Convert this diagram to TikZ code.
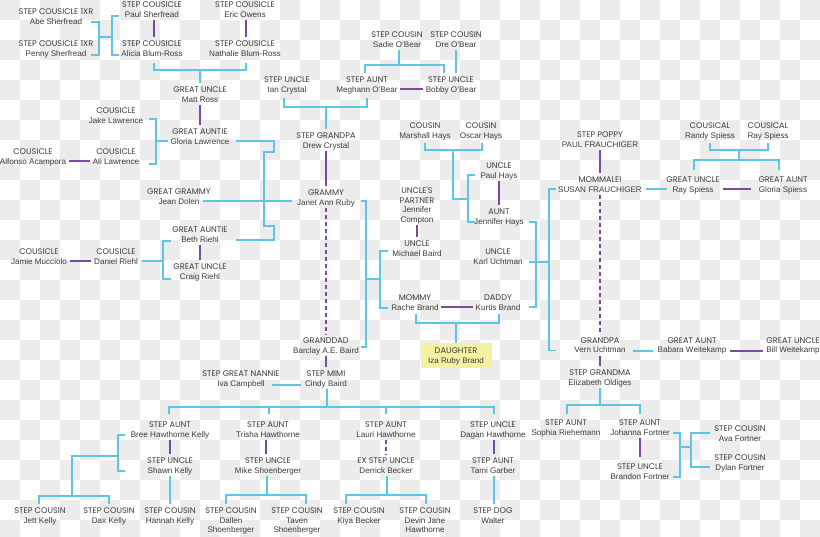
\documentclass[tikz,border=0pt]{standalone}
\usepackage{fontspec}
\setmainfont{Liberation Sans}
\newfontfamily\rolefont{Poppins}
\definecolor{kinblue}{HTML}{5CC6E4}
\definecolor{wedpurple}{HTML}{7B4A9E}
\definecolor{sqgrey}{HTML}{ECECEC}
\definecolor{textgrey}{HTML}{3C3C3C}
\definecolor{izayellow}{HTML}{F5F1A2}
\tikzset{
	role/.style={text=textgrey,font=\rolefont\fontsize{8.2}{9}\selectfont,inner xsep=2.5pt,inner ysep=2.75pt,text height=6.5pt,text depth=0pt},
	who/.style={text=textgrey,font=\fontsize{8.1}{9}\selectfont,inner xsep=2.5pt,inner ysep=2.75pt,text height=6.5pt,text depth=0pt},
	kin/.style={draw=kinblue,line width=1.8pt},
	wed/.style={draw=wedpurple,line width=2pt},
	wedex/.style={wed,dashed,dash pattern=on 4pt off 3pt},
	izabox/.style={fill=izayellow,minimum width=71pt,minimum height=25pt,inner sep=0pt}
}
\begin{document}
\begin{tikzpicture}[x=1pt,y=-1pt,line join=miter,line cap=butt]
	\useasboundingbox (0,0) rectangle (820,536);
	\fill[white] (0,0) rectangle (820,536);
	% checker background
	\foreach \i in {0,...,40}
	\foreach \j in {0,...,26}{
		\pgfmathparse{int(mod(\i+\j,2))}
		\ifnum\pgfmathresult=0 \fill[sqgrey] (\i*20,\j*20) rectangle ++(20,20); \fi
	}
	\node[izabox] (izab) at (456,355.5) {};
	% people: name/x/y/role/full name
	\foreach \n/\x/\y/\rl/\nm in {
		abe/56/21/STEP COUSICLE 1XR/Abe Sherfread,
		penny/56/53/STEP COUSICLE 1XR/Penny Sherfread,
		paul/152/14/STEP COUSICLE/Paul Sherfread,
		alicia/152/53/STEP COUSICLE/Alicia Blum-Ross,
		eric/245/14/STEP COUSICLE/Eric Owens,
		nathalie/245/53/STEP COUSICLE/Nathalie Blum-Ross,
		matt/200/99/GREAT UNCLE/Matt Ross,
		gloria/200/141/GREAT AUNTIE/Gloria Lawrence,
		jake/116/120/COUSICLE/Jake Lawrence,
		ali/116/161/COUSICLE/Ali Lawrence,
		alfonso/33/161/COUSICLE/Alfonso Acampora,
		ian/287/89/STEP UNCLE/Ian Crystal,
		meghann/367/89/STEP AUNT/Meghann O'Bear,
		bobby/451/89/STEP UNCLE/Bobby O'Bear,
		sadie/397/44/STEP COUSIN/Sadie O'Bear,
		dre/456/44/STEP COUSIN/Dre O'Bear,
		drew/326/145/STEP GRANDPA/Drew Crystal,
		marshall/425/135/COUSIN/Marshall Hays,
		oscar/481/135/COUSIN/Oscar Hays,
		paulh/499/175/UNCLE/Paul Hays,
		jean/179/201/GREAT GRAMMY/Jean Dolen,
		janet/326/202/GRAMMY/Janet Ann Ruby,
		michael/417/253/UNCLE/Michael Baird,
		beth/200/239/GREAT AUNTIE/Beth Riehl,
		craig/200/276/GREAT UNCLE/Craig Riehl,
		daniel/116/261/COUSICLE/Daniel Riehl,
		jamie/39/261/COUSICLE/Jamie Mucciolo,
		jenn/499/221/AUNT/Jennifer Hays,
		karl/498/261/UNCLE/Karl Uchtman,
		rache/415/307/MOMMY/Rache Brand,
		kurtis/498/307/DADDY/Kurtis Brand,
		iza/456/360/DAUGHTER/Iza Ruby Brand,
		barclay/326/350/GRANDDAD/Barclay A.E. Baird,
		mimi/326/383/STEP MIMI/Cindy Baird,
		iva/241/383/STEP GREAT NANNIE/Iva Campbell,
		poppy/600/144/STEP POPPY/PAUL FRAUCHIGER,
		susan/600/189/MOMMALEI/SUSAN FRAUCHIGER,
		randy/710/135/COUSICAL/Randy Spiess,
		rays/768/135/COUSICAL/Ray Spiess,
		rayg/693/189/GREAT UNCLE/Ray Spiess,
		glorias/783/189/GREAT AUNT/Gloria Spiess,
		vern/600/349.5/GRANDPA/Vern Uchtman,
		babara/692/349.5/GREAT AUNT/Babara Weitekamp,
		bill/793/349.5/GREAT UNCLE/Bill Weitekamp,
		eliz/600/382/STEP GRANDMA/Elizabeth Oldiges,
		sophia/566/432/STEP AUNT/Sophia Riehemann,
		johanna/640/432/STEP AUNT/Johanna Fortner,
		brandon/640/476/STEP UNCLE/Brandon Fortner,
		ava/740/438/STEP COUSIN/Ava Fortner,
		dylan/740/467/STEP COUSIN/Dylan Fortner,
		bree/170/434/STEP AUNT/Bree Hawthorne Kelly,
		shawn/170/470/STEP UNCLE/Shawn Kelly,
		trisha/268/434/STEP AUNT/Trisha Hawthorne,
		mike/268/470/STEP UNCLE/Mike Shoenberger,
		lauri/386/434/STEP AUNT/Lauri Hawthorne,
		derrick/386/470/EX STEP UNCLE/Derrick Becker,
		dagan/493/434/STEP UNCLE/Dagan Hawthorne,
		tami/493/470/STEP AUNT/Tami Garber,
		jett/40/520/STEP COUSIN/Jett Kelly,
		dax/109/520/STEP COUSIN/Dax Kelly,
		hannah/170/520/STEP COUSIN/Hannah Kelly,
		dallen/231/520/STEP COUSIN/Dallen,
		taven/297/520/STEP COUSIN/Taven,
		kiya/359/520/STEP COUSIN/Kiya Becker,
		devin/425/520/STEP COUSIN/Devin Jane,
		walter/493/520/STEP DOG/Walter}{
		\node[role] (\n-t) at (\x,\y-9.5) {\rl};
		\node[who] (\n) at (\x,\y) {\nm};
	}
	\node[role] (uncles) at (417,190) {UNCLE'S};
	\node[role] (partner) at (417,200) {PARTNER};
	\node[who] (jennifer) at (417,209) {Jennifer};
	\node[who] (compton) at (417,219) {Compton};
	\node[who] (dallenb) at (231,529.5) {Shoenberger};
	\node[who] (tavenb) at (297,529.5) {Shoenberger};
	\node[who] (devinb) at (425,529.5) {Hawthorne};
	% junctions
	\foreach \n/\x/\y in {sherl/99/37,sherr/112/37,rossj/200/70,lawj/156/141,riehlj/163/261,
		obj/399/65,cryj/326/107,hayj/453/150,hayk/468/199,bairdj/366/279,bairdk/380/279,
		brandj/456/323,uchj/529/262,uchk/549/262,spj/739/150,spk/739/160,elij/600/405,
		fortj/680/447,fortk/691/447,hawj/327/407,kelj/118/456,kelk/72/496,shoj/267/495,becj/387/495}
	\coordinate (\n) at (\x,\y);
	% blue lines
	\draw[kin] ([shift={(35,1)}]abe.center) -- ++(8,0) |- ([shift={(35,2)}]penny.center);
	\draw[kin] ([shift={(-33,2)}]paul.center) -- ++(-7,0) |- ([shift={(-33,2)}]alicia.center);
	\draw[kin] (sherl) -- (sherr);
	\draw[kin] ([shift={(2,10)}]alicia.center) -- ++(0,7) -| ([shift={(1,10)}]nathalie.center);
	\draw[kin] (rossj) -- (matt-t.north);
	\draw[kin] ([shift={(33,-1)}]jake.center) -- ++(7,0) |- ([shift={(33,3)}]ali.center);
	\draw[kin] (lawj) -- ([xshift=-32]gloria.center);
	\draw[kin] ([xshift=36]gloria.center) -- ++(38,0) -- ++(0,11) -- ++(-10,0) -- ++(0,74) -- ++(10,0) -- ++(0,14) -- ([shift={(36,1)}]beth.center);
	\draw[kin] ([xshift=24]jean.center) -- ([shift={(-34,-1)}]janet.center);
	\draw[kin] ([xshift=26]daniel.center) -- (riehlj);
	\draw[kin] ([shift={(-29,2)}]beth.center) -- ++(-8,0) |- ([shift={(-29,3)}]craig.center);
	\draw[kin] ([xshift=2]sadie.south) -- (obj);
	\draw[kin] ([xshift=-2]meghann-t.north) |- (obj) -| ([xshift=-7]bobby-t.north);
	\draw[kin] (dre.south) -- ([xshift=5]bobby-t.north);
	\draw[kin] ([shift={(-3,9)}]ian.center) |- (cryj) -| ([shift={(0,9)}]meghann.center);
	\draw[kin] (cryj) -- (drew-t.north);
	\draw[kin] ([shift={(0,8)}]marshall.center) |- (hayj) -| ([shift={(1,8)}]oscar.center);
	\draw[kin] (hayj) |- (hayk);
	\draw[kin] ([xshift=-24]paulh.center) -- ++(-7,0) |- ([shift={(-24,1)}]jenn.center);
	\draw[kin] ([shift={(35,-1)}]janet.center) -- ++(5,0) |- ([shift={(35,-3)}]barclay.center);
	\draw[kin] (bairdj) -- (bairdk);
	\draw[kin] ([shift={(-29,-2)}]michael.center) -- ++(-8,0) |- ([shift={(-27,1)}]rache.center);
	\draw[kin] ([shift={(1,7)}]rache.center) |- (brandj) -| ([shift={(1,7)}]kurtis.center);
	\draw[kin] (brandj) -- (izab.north);
	\draw[kin] ([shift={(30,1)}]jenn.center) -- ++(7,0) |- ([xshift=31]kurtis.center);
	\draw[kin] ([shift={(31,1)}]karl.center) -- (uchk);
	\draw[kin] ([xshift=-44]susan.center) -- ++(-7,0) |- ([shift={(-44,1)}]vern.center);
	\draw[kin] ([xshift=46]susan.center) -- ([xshift=-26]rayg.center);
	\draw[kin] ([shift={(0,8)}]randy.center) |- (spj) -| ([shift={(0,8)}]rays.center);
	\draw[kin] (spj) -- (spk);
	\draw[kin] ([shift={(1,-3)}]rayg-t.north) |- (spk) -| ([shift={(-4,-3)}]glorias-t.north);
	\draw[kin] ([shift={(33,1.5)}]vern.center) -- ([shift={(-39,1.5)}]babara.center);
	\draw[kin] (eliz.south) -- (elij);
	\draw[kin] ([shift={(1,-2)}]sophia-t.north) |- (elij) -| ([shift={(0,-2)}]johanna-t.north);
	\draw[kin] ([shift={(33,1)}]johanna.center) -- ++(7,0) |- ([shift={(33,1)}]brandon.center);
	\draw[kin] (fortj) -- (fortk);
	\draw[kin] ([shift={(-30,-5)}]ava.center) -- ++(-19,0) |- ([xshift=-30]dylan.center);
	\draw[kin] ([shift={(31,2)}]iva.center) -- ([shift={(-25,2)}]mimi.center);
	\draw[kin] ([xshift=1]mimi.south) -- (hawj);
	\draw[kin] ([shift={(-1,-4.5)}]bree-t.north) -- ++(0,-7) -| ([shift={(1,-4.5)}]dagan-t.north);
	\draw[kin] ([shift={(1,-4.5)}]trisha-t.north) -- ++(0,-7);
	\draw[kin] ([yshift=4.5]lauri-t.north) -- ++(0,-7);
	\draw[kin] ([shift={(-45,1)}]bree.center) -- ++(-7,0) |- ([shift={(-45,1)}]shawn.center);
	\draw[kin] (kelj) -| (kelk);
	\draw[kin] ([xshift=-1]jett-t.north) |- (kelk) -| (dax-t.north);
	\draw[kin] (shawn.south) -- (hannah-t.north);
	\draw[kin] ([xshift=-1]mike.south) -- (shoj);
	\draw[kin] ([xshift=-5]dallen-t.north) |- (shoj) -| ([xshift=9]taven-t.north);
	\draw[kin] ([xshift=1]derrick.south) -- (becj);
	\draw[kin] ([xshift=-13]kiya-t.north) |- (becj) -| ([xshift=1]devin-t.north);
	\draw[kin] ([xshift=1]tami.south) -- ([xshift=1]walter-t.north);
	% purple lines
	\draw[wed] ([xshift=2]paul.south) -- ([xshift=2]alicia-t.north);
	\draw[wed] ([xshift=1]eric.south) -- ([xshift=1]nathalie-t.north);
	\draw[wed] (matt.south) -- (gloria-t.north);
	\draw[wed] (alfonso.east) -- (ali.west);
	\draw[wed] (beth.south) -- (craig-t.north);
	\draw[wed] (jamie.east) -- (daniel.west);
	\draw[wed] (meghann.east) -- (bobby.west);
	\draw[wed] (drew.south) -- (janet-t.north);
	\draw[wed] (paulh.south) -- (jenn-t.north);
	\draw[wed] (compton.south) -- (michael-t.north);
	\draw[wed] (rache.east) -- (kurtis.west);
	\draw[wedex] (janet.south) -- (barclay-t.north);
	\draw[wed] (barclay.south) -- (mimi-t.north);
	\draw[wed] (poppy.south) -- (susan-t.north);
	\draw[wedex] (susan.south) -- (vern-t.north);
	\draw[wed] ([xshift=30]rayg.center) -- ([xshift=-32]glorias.center);
	\draw[wed] (vern.south) -- (eliz-t.north);
	\draw[wed] ([shift={(38,1.5)}]babara.center) -- ([shift={(-30,1.5)}]bill.center);
	\draw[wed] (johanna.south) -- ([yshift=3]brandon-t.north);
	\draw[wed] (bree.south) -- (shawn-t.north);
	\draw[wed] ([xshift=-2]trisha.south) -- ([xshift=-2]mike-t.north);
	\draw[wedex] (lauri.south) -- (derrick-t.north);
	\draw[wed] ([xshift=1]dagan.south) -- ([xshift=1]tami-t.north);
\end{tikzpicture}
\end{document}
